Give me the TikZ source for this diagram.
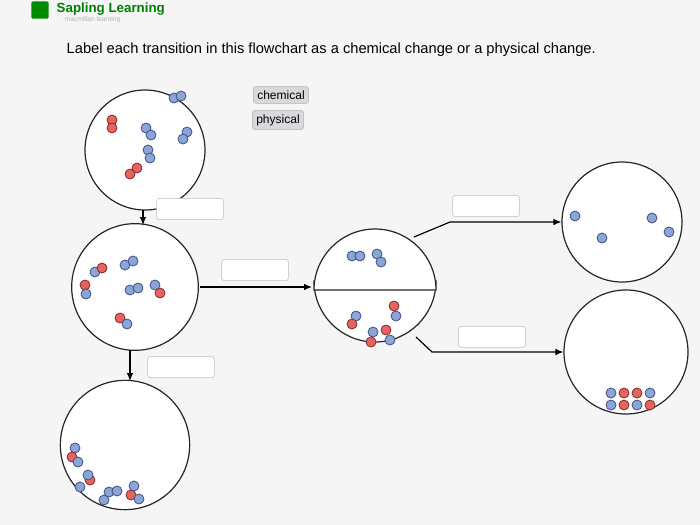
\documentclass[tikz,border=0pt]{standalone}
\usepackage{fontspec}
\setmainfont{Liberation Sans}
\usetikzlibrary{arrows.meta}
\definecolor{molb}{RGB}{140,165,215}
\definecolor{molbd}{RGB}{60,80,130}
\definecolor{molr}{RGB}{230,100,95}
\definecolor{molrd}{RGB}{130,40,40}
\begin{document}
\begin{tikzpicture}[x=0.75pt,y=-0.75pt,
  circ/.style={draw=black!85,line width=0.9pt,fill=white},
  bl/.style={circle,draw=molbd,fill=molb,minimum size=7.5pt,inner sep=0pt,line width=0.6pt},
  rd/.style={circle,draw=molrd,fill=molr,minimum size=7.5pt,inner sep=0pt,line width=0.6pt},
  ansbox/.style={draw=black!25,fill=white,rounded corners=2pt,minimum width=50pt,minimum height=16pt,inner sep=0pt},
  tag/.style={draw=black!30,fill=blue!10!black!15,rounded corners=2pt,font=\small,inner sep=3pt},
  arr/.style={-{Latex[length=6pt,width=5pt]},line width=0.9pt}]
\fill[black!4] (0,0) rectangle (700,525);
\useasboundingbox (0,0) rectangle (700,525);
% header
\node[fill=green!55!black,rounded corners=1pt,minimum size=13pt,inner sep=0pt] (logo) at (40,10) {};
\node[anchor=west,text=green!50!black,font=\bfseries] (brand) at (52,9) {Sapling Learning};
\node[anchor=west,text=black!30,font=\tiny] (sub) at (60,20) {macmillan learning};
\node[anchor=west,font=\fontsize{11}{13}\selectfont] (title) at (62,50) {Label each transition in this flowchart as a chemical change or a physical change.};
\node[tag] (chem) at (281,95) {chemical};
\node[tag] (phys) at (278,120) {physical};
% circles
\node[circ,circle,minimum size=90pt] (c1) at (145,150) {};
\node[circ,circle,minimum size=95pt] (c2) at (135,287) {};
\node[circ,circle,minimum size=97pt] (c3) at (125,445) {};
\node[circ,circle,minimum size=90pt] (c4) at (622,222) {};
\node[circ,circle,minimum size=93pt] (c5) at (626,352) {};
% split circle
\draw[circ] (314,281) arc (180:0:61) -- cycle;
\draw[circ] (314,290) arc (180:360:61) -- cycle;
\coordinate (sTop) at (414,237);
\coordinate (sBot) at (416,337);
\coordinate (sL) at (200,287);
\coordinate (sIn) at (312,287);
\coordinate (a1s) at (143,210);
\coordinate (a1e) at (143,225);
% arrows
\draw[arr] (a1s) -- (a1e);
\draw[arr] (130,350) -- (130,381);
\draw[arr] (sL) -- (sIn);
\draw[arr] (sTop) -- (450,222) -- (c4.west);
\draw[arr] (sBot) -- (432,352) -- (c5.west);
% answer boxes
\node[ansbox] (b1) at (190,209) {};
\node[ansbox] (b2) at (255,270) {};
\node[ansbox] (b3) at (181,367) {};
\node[ansbox] (b4) at (486,206) {};
\node[ansbox] (b5) at (492,337) {};
% circle 1 molecules
\node[bl] at (174,98){};\node[bl] at (181,96){};
\node[rd] at (112,120){};\node[rd] at (112,128){};
\node[bl] at (146,128){};\node[bl] at (151,135){};
\node[bl] at (187,132){};\node[bl] at (183,139){};
\node[bl] at (148,150){};\node[bl] at (150,158){};
\node[rd] at (130,174){};\node[rd] at (137,168){};
% circle 2
\node[bl] at (95,272){};\node[rd] at (102,268){};
\node[bl] at (125,265){};\node[bl] at (133,261){};
\node[rd] at (85,285){};\node[bl] at (86,294){};
\node[bl] at (130,290){};\node[bl] at (138,288){};
\node[bl] at (155,285){};\node[rd] at (160,293){};
\node[rd] at (120,318){};\node[bl] at (127,324){};
% circle 3
\node[bl] at (75,448){};\node[rd] at (72,457){};\node[bl] at (78,462){};
\node[rd] at (90,480){};\node[bl] at (88,475){};\node[bl] at (80,487){};
\node[bl] at (104,500){};\node[bl] at (109,492){};\node[bl] at (117,491){};
\node[rd] at (131,495){};\node[bl] at (134,486){};\node[bl] at (139,499){};
% split top
\node[bl] at (352,256){};\node[bl] at (360,256){};
\node[bl] at (377,254){};\node[bl] at (381,262){};
% split bottom
\node[rd] at (394,306){};\node[bl] at (396,316){};
\node[bl] at (356,316){};\node[rd] at (352,324){};
\node[bl] at (373,332){};\node[rd] at (386,330){};
\node[rd] at (371,342){};\node[bl] at (390,340){};
% right top
\node[bl] at (575,216){};\node[bl] at (602,238){};\node[bl] at (652,218){};\node[bl] at (669,232){};
% right bottom
\foreach \x/\c in {611/bl,624/rd,637/rd,650/bl}{\node[\c] at (\x,393){};}
\foreach \x/\c in {611/bl,624/rd,637/bl,650/rd}{\node[\c] at (\x,405){};}
\end{tikzpicture}
\end{document}
